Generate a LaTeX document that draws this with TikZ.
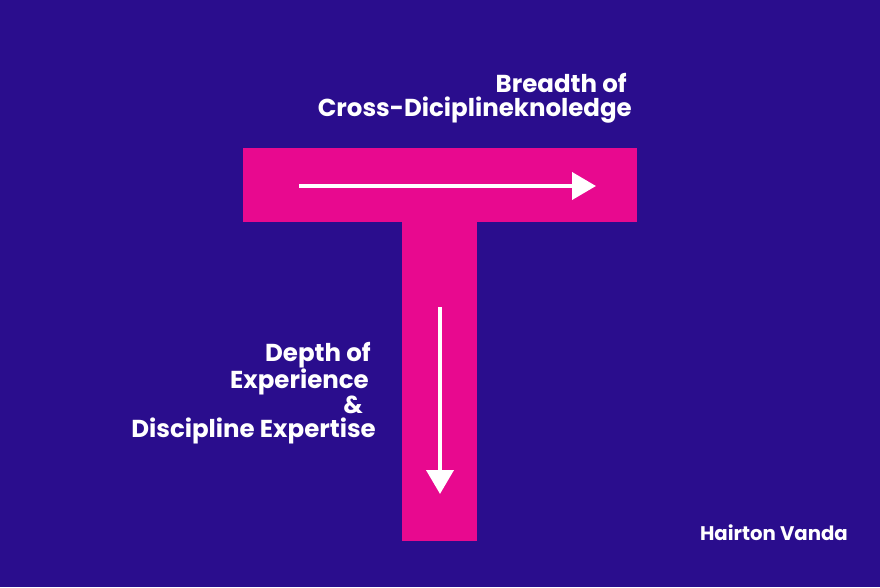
\documentclass[tikz,border=0pt]{standalone}
\usepackage{fontspec}
\setmainfont{Poppins}[BoldFont={* Bold}]
\usetikzlibrary{arrows.meta}
\definecolor{bg}{HTML}{2A0D8D}
\definecolor{pk}{HTML}{E8098F}
\begin{document}
\begin{tikzpicture}[x=1pt,y=-1pt,
  lbl/.style={text=white,font=\bfseries\fontsize{24.5}{24}\selectfont,inner sep=0pt,align=right},
  arr/.style={white,line width=4pt,-{Triangle[length=24pt,width=27pt]}}]
\fill[bg] (0,0) rectangle (880,587);
\useasboundingbox (0,0) rectangle (880,587);
\fill[pk] (243,148) rectangle (637,222);
\fill[pk] (402,221) rectangle (477,541);
\coordinate (h1) at (299,186); \coordinate (h2) at (596,186);
\coordinate (v1) at (440,307); \coordinate (v2) at (440,494);
\draw[arr] (h1) -- (h2);
\draw[arr] (v1) -- (v2);
\node[lbl,anchor=north east] (b) at (632,73) {\mbox{Breadth of\kern5pt}\\Cross-Diciplineknoledge};
\node[lbl,anchor=north east] (d) at (376,342) {\mbox{Depth of\kern5pt}\\\mbox{Experience\kern7pt}\\\mbox{\&\kern13pt}\\Discipline Expertise};
\node[text=white,font=\bfseries\fontsize{19.7}{22}\selectfont,inner sep=0pt,anchor=east] (h) at (848,533) {Hairton Vanda};
\end{tikzpicture}
\end{document}
